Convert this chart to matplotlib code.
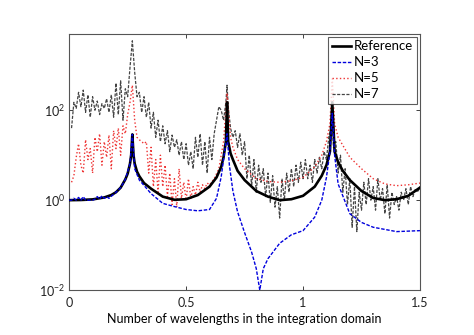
import numpy as np
import matplotlib
matplotlib.use("Agg")
import matplotlib.pyplot as plt
from matplotlib.ticker import FixedLocator, NullLocator

plt.rcParams['font.family'] = ['Lato', 'DejaVu Sans']
plt.rcParams['mathtext.fontset'] = 'custom'
plt.rcParams['mathtext.rm'] = 'Lato'

# -----------------------------
# Reference solution
# -----------------------------
x_ref = [0.0, 0.05, 0.1, 0.15, 0.18, 0.2, 0.22, 0.24, 0.25, 0.26, 0.265, 0.27,
         0.275, 0.28, 0.29, 0.3, 0.32, 0.35, 0.4, 0.45, 0.5, 0.55, 0.6, 0.63,
         0.65, 0.66, 0.67, 0.675, 0.68, 0.69, 0.7, 0.72, 0.75, 0.8, 0.85, 0.9,
         0.95, 1.0, 1.05, 1.08, 1.1, 1.115, 1.125, 1.135, 1.15, 1.17, 1.2, 1.25,
         1.3, 1.35, 1.4, 1.45, 1.5]
y_ref = [1.0, 1.01, 1.04, 1.15, 1.3, 1.5, 1.9, 2.9, 3.9, 6.5, 10, 29,
         10, 6.5, 4.3, 3.4, 2.4, 1.8, 1.2, 1.02, 1.05, 1.3, 2.0, 3.2,
         5.5, 9, 20, 150, 20, 11, 8, 4.5, 2.8, 1.6, 1.2, 1.0,
         1.05, 1.25, 2.0, 3.5, 6, 12, 150, 12, 7, 4.5, 2.8, 1.6,
         1.12, 1.0, 1.05, 1.25, 1.9]

# -----------------------------
# N=3
# -----------------------------
x_n3 = [0.0, 0.01, 0.02, 0.03, 0.04, 0.05, 0.06, 0.07, 0.08, 0.09, 0.1, 0.11,
        0.12, 0.13, 0.14, 0.15, 0.16, 0.17, 0.2, 0.22, 0.24, 0.26, 0.27, 0.28,
        0.3, 0.35, 0.4, 0.45, 0.5, 0.55, 0.6, 0.63, 0.65, 0.66, 0.675, 0.685,
        0.7, 0.72, 0.75, 0.78, 0.8, 0.815, 0.83, 0.85, 0.9, 0.95, 1.0, 1.05,
        1.08, 1.1, 1.115, 1.125, 1.135, 1.15, 1.2, 1.25, 1.3, 1.4, 1.5]
y_n3 = [1.0, 1.0, 1.1, 1.0, 1.15, 1.0, 1.2, 1.0, 1.0, 1.0, 1.0, 1.05,
        1.2, 1.05, 1.25, 1.1, 1.2, 1.1, 1.5, 1.9, 2.9, 6.5, 29, 5,
        2.8, 1.4, 0.85, 0.72, 0.62, 0.58, 0.62, 1.1, 3.3, 8, 30, 6,
        1.6, 0.55, 0.19, 0.07, 0.03, 0.01, 0.03, 0.05, 0.11, 0.17, 0.21, 0.42,
        1.0, 3.2, 12, 85, 10, 2.3, 0.5, 0.32, 0.25, 0.2, 0.21]

# -----------------------------
# N=5
# -----------------------------
x_n5 = [0.01, 0.02, 0.03, 0.04, 0.05, 0.06, 0.07, 0.08, 0.09, 0.10,
        0.11, 0.12, 0.13, 0.14, 0.15, 0.16, 0.17, 0.18, 0.19, 0.20,
        0.21, 0.22, 0.23, 0.24, 0.25, 0.26, 0.27, 0.28, 0.29, 0.30,
        0.31, 0.32, 0.33, 0.34, 0.35, 0.36, 0.37, 0.38, 0.39, 0.40,
        0.41, 0.42, 0.43, 0.44, 0.45, 0.46, 0.47, 0.48, 0.49, 0.50,
        0.51, 0.52, 0.53, 0.54, 0.55, 0.56, 0.57, 0.58, 0.59, 0.60,
        0.62, 0.64, 0.66, 0.675, 0.69, 0.7, 0.72, 0.75, 0.8, 0.85,
        0.9, 0.95, 1.0, 1.05, 1.08, 1.1, 1.115, 1.125, 1.135, 1.15,
        1.2, 1.25, 1.3, 1.35, 1.4, 1.45, 1.5]
y_n5 = [2.5, 3.5, 9, 18, 6, 4, 22, 8, 14, 4,
        25, 12, 30, 6, 20, 9, 28, 5, 35, 14,
        40, 10, 45, 30, 80, 150, 360, 60, 25, 22,
        20, 18, 20, 4, 15, 2, 8, 1.5, 10, 2,
        6, 1.2, 4, 0.8, 3, 0.7, 5, 1.1, 2.5, 1.0,
        3, 1.1, 2, 1.3, 2.5, 1.5, 2.2, 1.8, 2.4, 2.2,
        3, 5, 20, 240, 25, 15, 8, 5, 3, 2.6,
        2.5, 2.7, 3.2, 5.5, 10, 20, 50, 500, 50, 25,
        9, 5, 3, 2.3, 2.1, 2.2, 2.4]

# -----------------------------
# N=7
# -----------------------------
x_n7 = [0.01, 0.02, 0.03, 0.04, 0.05, 0.06, 0.07, 0.08, 0.09, 0.10,
        0.11, 0.12, 0.13, 0.14, 0.15, 0.16, 0.17, 0.18, 0.19, 0.20,
        0.21, 0.22, 0.23, 0.24, 0.25, 0.26, 0.27, 0.28, 0.29, 0.30,
        0.31, 0.32, 0.33, 0.34, 0.35, 0.36, 0.37, 0.38, 0.39, 0.40,
        0.41, 0.42, 0.43, 0.44, 0.45, 0.46, 0.47, 0.48, 0.49, 0.50,
        0.51, 0.52, 0.53, 0.54, 0.55, 0.56, 0.57, 0.58, 0.59, 0.60,
        0.61, 0.62, 0.63, 0.64, 0.65, 0.66, 0.67, 0.675, 0.68, 0.69,
        0.70, 0.71, 0.72, 0.73, 0.74, 0.75, 0.76, 0.77, 0.78, 0.79,
        0.80, 0.81, 0.82, 0.83, 0.84, 0.85, 0.86, 0.87, 0.88, 0.89,
        0.90, 0.91, 0.92, 0.93, 0.94, 0.95, 0.96, 0.97, 0.98, 0.99,
        1.00, 1.01, 1.02, 1.03, 1.04, 1.05, 1.06, 1.07, 1.08, 1.09,
        1.10, 1.11, 1.12, 1.125, 1.13, 1.14, 1.15, 1.16, 1.17, 1.18,
        1.19, 1.20, 1.21, 1.22, 1.23, 1.24, 1.25, 1.26, 1.27, 1.28,
        1.29, 1.30, 1.31, 1.32, 1.33, 1.34, 1.35, 1.36, 1.37, 1.38,
        1.39, 1.40, 1.41, 1.42, 1.43, 1.44, 1.45, 1.46, 1.47, 1.48,
        1.49, 1.50]
y_n7 = [40, 150, 110, 250, 120, 280, 90, 220, 70, 200,
        100, 160, 80, 140, 110, 180, 90, 220, 70, 400,
        80, 450, 60, 300, 200, 900, 3500, 700, 200, 250,
        90, 200, 70, 150, 40, 90, 25, 60, 20, 45,
        18, 35, 12, 28, 15, 22, 10, 20, 8, 18,
        6, 12, 5, 25, 9, 30, 6, 20, 4, 25,
        8, 30, 60, 120, 100, 60, 150, 360, 120, 40,
        25, 35, 15, 30, 10, 20, 3, 10, 2, 8,
        1.5, 6, 2.5, 5, 1.2, 4, 0.9, 3.5, 0.7, 2,
        0.4, 3, 1, 4, 1.5, 5, 2, 6, 2.5, 7,
        3, 8, 3, 6, 2.5, 8, 4, 9, 5, 12,
        8, 25, 40, 60, 15, 20, 4, 10, 1.5, 5,
        0.8, 3, 0.25, 2, 0.2, 1.5, 0.6, 2.5, 0.8, 3,
        1, 2, 0.6, 3, 1, 1.8, 0.5, 2.2, 0.4, 1.5,
        0.8, 1.2, 0.6, 1.5, 1.0, 1.8, 0.8, 2, 1.2, 1.8,
        1.5, 2]

fig = plt.figure(figsize=(4.74, 3.35), dpi=100)
ax = fig.add_axes([0.146, 0.134, 0.74, 0.765])

ax.semilogy(x_ref, y_ref, color='black', linewidth=1.9, label='Reference', zorder=3)
ax.semilogy(x_n3, y_n3, color='#0000dd', linestyle='--', linewidth=1.0,
            dashes=(2.5, 1.2), label='N=3', zorder=4)
ax.semilogy(x_n5, y_n5, color='#ee3333', linestyle=':', linewidth=1.0, label='N=5', zorder=2)
ax.semilogy(x_n7, y_n7, color='#444444', linestyle='--', linewidth=0.9,
            dashes=(2.5, 1.2), label='N=7', zorder=1)

ax.set_xlim(0, 1.5)
ax.set_ylim(1e-2, 5e3)
ax.set_xticks([0, 0.5, 1, 1.5])
ax.set_xticklabels(['0', '0.5', '1', '1.5'])
ax.yaxis.set_major_locator(FixedLocator([1e-2, 1e0, 1e2]))
ax.yaxis.set_minor_locator(NullLocator())
ax.set_yticklabels([r'$\mathdefault{10^{-2}}$', r'$\mathdefault{10^{0}}$', r'$\mathdefault{10^{2}}$'])
ax.tick_params(direction='in', length=3, width=0.6, top=True, right=True,
               labelsize=9, colors='#222222', pad=3)
ax.tick_params(axis='x', pad=5)
for s in ax.spines.values():
    s.set_linewidth(0.8)
    s.set_color('#555555')

ax.set_xlabel('Number of wavelengths in the integration domain', fontsize=9, labelpad=3)

leg = ax.legend(loc='upper right', fontsize=9.5, handlelength=1.5, handletextpad=0.2,
                labelspacing=0.3, borderpad=0.25, borderaxespad=0.25, fancybox=False)
leg.get_frame().set_edgecolor('#333333')
leg.get_frame().set_linewidth(0.8)

plt.savefig('out.png', dpi=100)
